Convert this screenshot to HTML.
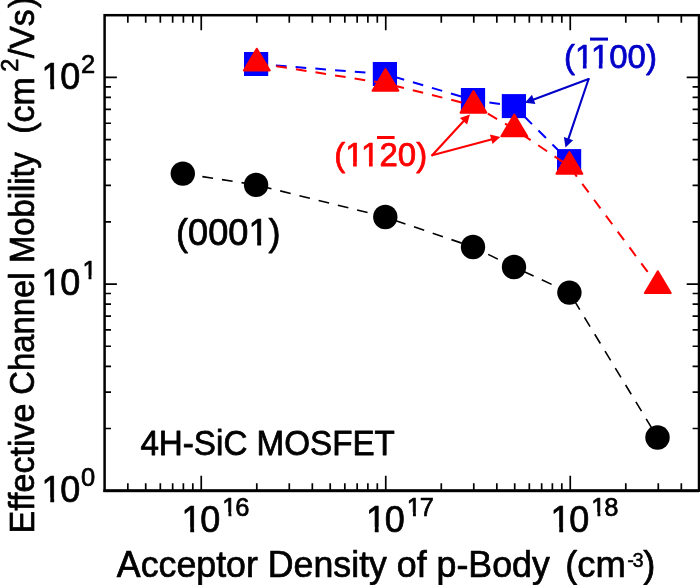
<!DOCTYPE html>
<html lang="en"><head><meta charset="utf-8"><title>Effective Channel Mobility vs Acceptor Density</title>
<style>html,body{margin:0;padding:0;background:#fff;}body{width:700px;height:585px;overflow:hidden;}svg{display:block;}text{font-family:"Liberation Sans",Arial,Helvetica,sans-serif;}</style>
</head><body>
<svg width="700" height="585" viewBox="0 0 700 585">
<rect x="0" y="0" width="700" height="585" fill="#fff"/>
<path d="M127.83 490.70v-7.5M127.83 15.20v7.5M145.71 490.70v-7.5M145.71 15.20v7.5M160.32 490.70v-7.5M160.32 15.20v7.5M172.67 490.70v-7.5M172.67 15.20v7.5M183.37 490.70v-7.5M183.37 15.20v7.5M192.81 490.70v-7.5M192.81 15.20v7.5M201.25 490.70v-15M201.25 15.20v15M256.79 490.70v-7.5M256.79 15.20v7.5M289.28 490.70v-7.5M289.28 15.20v7.5M312.33 490.70v-7.5M312.33 15.20v7.5M330.21 490.70v-7.5M330.21 15.20v7.5M344.82 490.70v-7.5M344.82 15.20v7.5M357.17 490.70v-7.5M357.17 15.20v7.5M367.87 490.70v-7.5M367.87 15.20v7.5M377.31 490.70v-7.5M377.31 15.20v7.5M385.75 490.70v-15M385.75 15.20v15M441.29 490.70v-7.5M441.29 15.20v7.5M473.78 490.70v-7.5M473.78 15.20v7.5M496.83 490.70v-7.5M496.83 15.20v7.5M514.71 490.70v-7.5M514.71 15.20v7.5M529.32 490.70v-7.5M529.32 15.20v7.5M541.67 490.70v-7.5M541.67 15.20v7.5M552.37 490.70v-7.5M552.37 15.20v7.5M561.81 490.70v-7.5M561.81 15.20v7.5M570.25 490.70v-15M570.25 15.20v15M625.79 490.70v-7.5M625.79 15.20v7.5M658.28 490.70v-7.5M658.28 15.20v7.5M681.33 490.70v-7.5M681.33 15.20v7.5M104.60 428.49h6.4M699.00 428.49h-6.4M104.60 392.10h6.4M699.00 392.10h-6.4M104.60 366.28h6.4M699.00 366.28h-6.4M104.60 346.26h6.4M699.00 346.26h-6.4M104.60 329.90h6.4M699.00 329.90h-6.4M104.60 316.06h6.4M699.00 316.06h-6.4M104.60 304.08h6.4M699.00 304.08h-6.4M104.60 293.51h6.4M699.00 293.51h-6.4M104.60 284.05h12.3M699.00 284.05h-12.3M104.60 221.84h6.4M699.00 221.84h-6.4M104.60 185.45h6.4M699.00 185.45h-6.4M104.60 159.63h6.4M699.00 159.63h-6.4M104.60 139.61h6.4M699.00 139.61h-6.4M104.60 123.25h6.4M699.00 123.25h-6.4M104.60 109.41h6.4M699.00 109.41h-6.4M104.60 97.43h6.4M699.00 97.43h-6.4M104.60 86.86h6.4M699.00 86.86h-6.4M104.60 77.40h12.3M699.00 77.40h-12.3" fill="none" stroke="#000" stroke-width="1.7"/>
<rect x="104.6" y="15.2" width="594.4" height="475.5" fill="none" stroke="#000" stroke-width="2.5"/>
<rect x="103.35" y="489.40" width="595.65" height="2.8" fill="#000"/>
<polyline points="182.8,173.6 256.1,184.9 385.3,217.0 473.0,247.0 514.0,267.0 569.4,292.6 657.5,437.5" fill="none" stroke="#000" stroke-width="1.6" stroke-dasharray="10.8 9.0"/>
<circle cx="182.8" cy="173.6" r="12.2" fill="#000"/>
<circle cx="256.1" cy="184.9" r="12.2" fill="#000"/>
<circle cx="385.3" cy="217.0" r="12.2" fill="#000"/>
<circle cx="473.0" cy="247.0" r="12.2" fill="#000"/>
<circle cx="514.0" cy="267.0" r="12.2" fill="#000"/>
<circle cx="569.4" cy="292.6" r="12.2" fill="#000"/>
<circle cx="657.5" cy="437.5" r="12.2" fill="#000"/>
<polyline points="256.1,64.0 384.9,74.0 473.0,100.0 513.9,106.1 569.1,161.1" fill="none" stroke="#0000ff" stroke-width="2" stroke-dasharray="10.7 9.1"/>
<rect x="244.0" y="52.0" width="24.2" height="24" fill="#0000ff"/>
<rect x="372.8" y="62.0" width="24.2" height="24" fill="#0000ff"/>
<rect x="460.9" y="88.0" width="24.2" height="24" fill="#0000ff"/>
<rect x="501.8" y="94.1" width="24.2" height="24" fill="#0000ff"/>
<rect x="557.0" y="149.1" width="24.2" height="24" fill="#0000ff"/>
<polyline points="256.8,63.1 385.5,83.4 473.5,105.4 514.3,129.0 569.4,166.5 657.8,285.6" fill="none" stroke="#ff0000" stroke-width="2" stroke-dasharray="10.7 9.1"/>
<polygon points="256.8,48.7 269.75,70.4 243.85,70.4" fill="#ff0000" stroke="#ff0000" stroke-width="2" stroke-linejoin="round"/>
<polygon points="385.5,69.0 398.45,90.7 372.55,90.7" fill="#ff0000" stroke="#ff0000" stroke-width="2" stroke-linejoin="round"/>
<polygon points="473.5,91.0 486.45,112.7 460.55,112.7" fill="#ff0000" stroke="#ff0000" stroke-width="2" stroke-linejoin="round"/>
<polygon points="514.3,114.6 527.25,136.3 501.35,136.3" fill="#ff0000" stroke="#ff0000" stroke-width="2" stroke-linejoin="round"/>
<polygon points="569.4,152.1 582.35,173.8 556.45,173.8" fill="#ff0000" stroke="#ff0000" stroke-width="2" stroke-linejoin="round"/>
<polygon points="657.8,271.2 670.75,292.9 644.85,292.9" fill="#ff0000" stroke="#ff0000" stroke-width="2" stroke-linejoin="round"/>
<line x1="588.6" y1="79.0" x2="533.7" y2="99.4" stroke="#0000c8" stroke-width="2.1" stroke-linecap="round"/>
<polygon points="524.9,102.7 532.0,94.8 535.4,104.0" fill="#0000c8"/>
<line x1="588.6" y1="79.0" x2="568.5" y2="138.7" stroke="#0000c8" stroke-width="2.1" stroke-linecap="round"/>
<polygon points="565.5,147.6 563.9,137.1 573.1,140.3" fill="#0000c8"/>
<line x1="432.2" y1="155.3" x2="463.5" y2="121.3" stroke="#ff0000" stroke-width="2.1" stroke-linecap="round"/>
<polygon points="469.9,114.4 467.1,124.6 459.9,118.0" fill="#ff0000"/>
<line x1="432.2" y1="155.3" x2="491.2" y2="139.4" stroke="#ff0000" stroke-width="2.1" stroke-linecap="round"/>
<polygon points="500.3,136.9 492.5,144.1 489.9,134.6" fill="#ff0000"/>
<text transform="translate(176.0 245)" font-size="36.2" fill="#000" stroke="#000" stroke-width="0.75" stroke-linejoin="round">(0001)</text>
<rect x="249.64" y="240.62" width="7.55" height="6.05" fill="#fff"/>
<rect x="261.13" y="240.62" width="7.26" height="6.05" fill="#fff"/>
<text transform="translate(564.0 67.6)" font-size="33" fill="#0000c8" stroke="#0000c8" stroke-width="0.75" stroke-linejoin="round">(1100)</text>
<rect x="575.93" y="63.46" width="6.98" height="5.82" fill="#fff"/>
<rect x="586.58" y="63.46" width="6.73" height="5.82" fill="#fff"/>
<rect x="591.83" y="63.46" width="6.98" height="5.82" fill="#fff"/>
<rect x="602.48" y="63.46" width="6.73" height="5.82" fill="#fff"/>
<rect x="590" y="37.6" width="18" height="3" fill="#0000c8"/>
<text transform="translate(334.2 166)" font-size="33" fill="#ff0000" stroke="#ff0000" stroke-width="0.75" stroke-linejoin="round">(1120)</text>
<rect x="346.13" y="161.86" width="6.98" height="5.82" fill="#fff"/>
<rect x="356.78" y="161.86" width="6.73" height="5.82" fill="#fff"/>
<rect x="362.03" y="161.86" width="6.98" height="5.82" fill="#fff"/>
<rect x="372.68" y="161.86" width="6.73" height="5.82" fill="#fff"/>
<rect x="377" y="136" width="17.6" height="3" fill="#ff0000"/>
<text transform="translate(140.4 454.8) scale(1 1.03)" font-size="33.2" fill="#000" stroke="#000" stroke-width="0.75" stroke-linejoin="round">4H-SiC MOSFET</text>
<text transform="translate(40.5 88.7) scale(1 1.045)" font-size="36" fill="#000" stroke="#000" stroke-width="0.7" stroke-linejoin="round"><tspan dx="1.1">1</tspan><tspan dx="-1.4">0</tspan><tspan font-size="25.5" dx="0.9" dy="-15.2">2</tspan></text>
<rect x="42.79" y="84.22" width="7.51" height="6.13" fill="#fff"/>
<rect x="54.18" y="84.22" width="7.23" height="6.13" fill="#fff"/>
<text transform="translate(40.5 295.1) scale(1 1.045)" font-size="36" fill="#000" stroke="#000" stroke-width="0.7" stroke-linejoin="round"><tspan dx="1.1">1</tspan><tspan dx="-1.4">0</tspan><tspan font-size="25.5" dx="2.2" dy="-15.2">1</tspan></text>
<rect x="42.79" y="290.62" width="7.51" height="6.13" fill="#fff"/>
<rect x="54.18" y="290.62" width="7.23" height="6.13" fill="#fff"/>
<rect x="82.84" y="275.56" width="5.67" height="5.31" fill="#fff"/>
<rect x="91.46" y="275.56" width="5.47" height="5.31" fill="#fff"/>
<text transform="translate(40.5 501.8) scale(1 1.045)" font-size="36" fill="#000" stroke="#000" stroke-width="0.7" stroke-linejoin="round"><tspan dx="1.1">1</tspan><tspan dx="-1.4">0</tspan><tspan font-size="25.5" dx="0.9" dy="-15.2">0</tspan></text>
<rect x="42.79" y="497.32" width="7.51" height="6.13" fill="#fff"/>
<rect x="54.18" y="497.32" width="7.23" height="6.13" fill="#fff"/>
<text transform="translate(180.45 531.5) scale(1 1.045)" font-size="36" fill="#000" stroke="#000" stroke-width="0.7" stroke-linejoin="round"><tspan dx="1.1">1</tspan><tspan dx="-1.4">0</tspan><tspan font-size="25.5" dx="2.2" dy="-15.2">1</tspan><tspan font-size="25.5" dx="-1.3">6</tspan></text>
<rect x="182.74" y="527.02" width="7.51" height="6.13" fill="#fff"/>
<rect x="194.13" y="527.02" width="7.23" height="6.13" fill="#fff"/>
<rect x="222.79" y="511.96" width="5.67" height="5.31" fill="#fff"/>
<rect x="231.41" y="511.96" width="5.47" height="5.31" fill="#fff"/>
<text transform="translate(364.95 531.5) scale(1 1.045)" font-size="36" fill="#000" stroke="#000" stroke-width="0.7" stroke-linejoin="round"><tspan dx="1.1">1</tspan><tspan dx="-1.4">0</tspan><tspan font-size="25.5" dx="2.2" dy="-15.2">1</tspan><tspan font-size="25.5" dx="-1.3">7</tspan></text>
<rect x="367.24" y="527.02" width="7.51" height="6.13" fill="#fff"/>
<rect x="378.63" y="527.02" width="7.23" height="6.13" fill="#fff"/>
<rect x="407.29" y="511.96" width="5.67" height="5.31" fill="#fff"/>
<rect x="415.91" y="511.96" width="5.47" height="5.31" fill="#fff"/>
<text transform="translate(549.45 531.5) scale(1 1.045)" font-size="36" fill="#000" stroke="#000" stroke-width="0.7" stroke-linejoin="round"><tspan dx="1.1">1</tspan><tspan dx="-1.4">0</tspan><tspan font-size="25.5" dx="2.2" dy="-15.2">1</tspan><tspan font-size="25.5" dx="-1.3">8</tspan></text>
<rect x="551.74" y="527.02" width="7.51" height="6.13" fill="#fff"/>
<rect x="563.13" y="527.02" width="7.23" height="6.13" fill="#fff"/>
<rect x="591.79" y="511.96" width="5.67" height="5.31" fill="#fff"/>
<rect x="600.41" y="511.96" width="5.47" height="5.31" fill="#fff"/>
<text transform="translate(116.8 577) scale(1 1.025)" font-size="35.75" fill="#000" stroke="#000" stroke-width="0.7" stroke-linejoin="round">Acceptor Density of p-Body</text>
<text transform="translate(565.2 577) scale(1 1.01)" font-size="36.4" fill="#000" stroke="#000" stroke-width="0.7" stroke-linejoin="round">(cm</text>
<text transform="translate(627.2 567.0) scale(1 1.05)" font-size="20" fill="#000" stroke="#000" stroke-width="0.45" stroke-linejoin="round">-<tspan dx="-1.3">3</tspan></text>
<text transform="translate(643.3 577) scale(1 1.01)" font-size="36.4" fill="#000" stroke="#000" stroke-width="0.7" stroke-linejoin="round">)</text>
<text transform="translate(34.0 533.4) rotate(-90) scale(1.0 1.03)" font-size="34" fill="#000" stroke="#000" stroke-width="0.7" stroke-linejoin="round">Effective</text>
<text transform="translate(34.0 394.7) rotate(-90) scale(0.965 1.03)" font-size="34" fill="#000" stroke="#000" stroke-width="0.7" stroke-linejoin="round">Channel</text>
<text transform="translate(34.0 262.9) rotate(-90) scale(0.962 1.03)" font-size="34" fill="#000" stroke="#000" stroke-width="0.7" stroke-linejoin="round">Mobility</text>
<text transform="translate(34.0 133.8) rotate(-90) scale(1.0 1.03)" font-size="34" fill="#000" stroke="#000" stroke-width="0.7" stroke-linejoin="round">(cm</text>
<text transform="translate(18.0 71.8) rotate(-90) scale(1.0 1.03)" font-size="23.5" fill="#000" stroke="#000" stroke-width="0.7" stroke-linejoin="round">2</text>
<text transform="translate(34.0 58.3) rotate(-90) scale(1.0 1.03)" font-size="34" fill="#000" stroke="#000" stroke-width="0.7" stroke-linejoin="round">/Vs</text>
<text transform="translate(34.0 8.0) rotate(-90) scale(1.0 1.03)" font-size="34" fill="#000" stroke="#000" stroke-width="0.7" stroke-linejoin="round">)</text>
</svg></body></html>
